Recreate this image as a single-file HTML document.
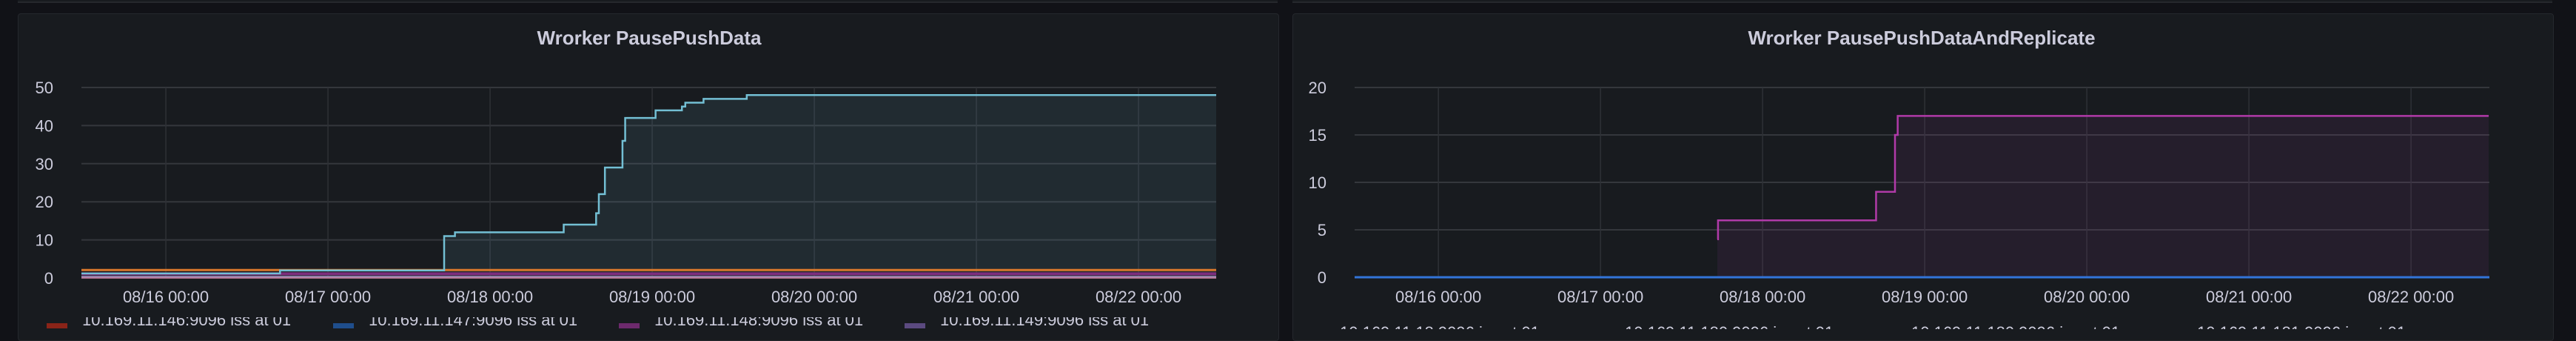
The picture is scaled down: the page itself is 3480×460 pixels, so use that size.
<!DOCTYPE html>
<html><head><meta charset="utf-8">
<style>
html,body{margin:0;padding:0;background:#111217;width:3480px;height:444px;overflow:hidden;font-family:"Liberation Sans",sans-serif;}
.panel{position:absolute;top:18px;height:440px;background:#181b1f;border:1px solid #25282d;border-radius:4px;}
.topstrip{position:absolute;top:-10px;height:12px;background:#181b1f;border-bottom:2px solid #25282d;}
.leg{position:absolute;overflow:hidden;color:#ccccdc;font-size:22px;}
</style></head><body>
<div class="topstrip" style="left:24px;width:1702px"></div>
<div class="topstrip" style="left:1746px;width:1702px"></div>
<div class="panel" style="left:24px;width:1702px"></div>
<div class="panel" style="left:1746px;width:1702px"></div>
<svg id="chart" width="3480" height="444" style="position:absolute;left:0;top:0"></svg>
<div class="leg" style="left:40px;top:428px;width:1680px;height:16px">
 <div style="position:absolute;top:-9px;left:0;white-space:nowrap">
  <span style="position:absolute;left:23px;top:17px;width:28px;height:7px;background:#8a2418"></span><span style="position:absolute;left:71px">10.169.11.146:9096 iss at 01</span>
  <span style="position:absolute;left:410px;top:17px;width:28px;height:7px;background:#1f4e8c"></span><span style="position:absolute;left:458px">10.169.11.147:9096 iss at 01</span>
  <span style="position:absolute;left:796px;top:17px;width:28px;height:7px;background:#6d2a6d"></span><span style="position:absolute;left:844px">10.169.11.148:9096 iss at 01</span>
  <span style="position:absolute;left:1182px;top:17px;width:28px;height:7px;background:#5b4a80"></span><span style="position:absolute;left:1230px">10.169.11.149:9096 iss at 01</span>
 </div>
</div>
<div class="leg" style="left:1810px;top:436px;width:1630px;height:8px">
 <div style="position:absolute;top:0;left:0;white-space:nowrap">
  <span style="position:absolute;left:0">10.169.11.18:9096 iss at 01</span>
  <span style="position:absolute;left:385px">10.169.11.180:9096 iss at 01</span>
  <span style="position:absolute;left:772px">10.169.11.180:9096 iss at 01</span>
  <span style="position:absolute;left:1158px">10.169.11.181:9096 iss at 01</span>
 </div>
</div>
<script>
// hours relative to 08/16 00:00
const dayLabels = ["08/16 00:00","08/17 00:00","08/18 00:00","08/19 00:00","08/20 00:00","08/21 00:00","08/22 00:00"];
const leftTicks = [0,10,20,30,40,50];
const rightTicks = [0,5,10,15,20];
const leftBlueT = [-12.5,16.9,41.0,41.2,42.8,58.9,63.7,64.1,65.0,67.6,68.0,72.5,76.4,76.9,79.6,86.0,155.5];
const leftBlueV = [1.2,2,2,11,12,14,17,22,29,36,42,44,45,46,47,48,48];
const leftOrangeV = 2.1;
const leftPurpleV = 1.1;
const leftLavenderV = 0.25;
const rightPinkT = [41.3,41.4,64.8,67.6,68.0,155.5];
const rightPinkV = [4,6,9,15,17,17];
const rightBlueV = 0;

const svg = document.getElementById('chart');
const NS = 'http://www.w3.org/2000/svg';
function mk(tag, attrs){const e=document.createElementNS(NS,tag);for(const k in attrs)e.setAttribute(k,attrs[k]);svg.appendChild(e);return e;}

function drawPanel(p){
  const x=h=>p.x0+(h-p.h0)*(p.x1-p.x0)/(p.h1-p.h0);
  const y=v=>p.yb-(v/p.vmax)*(p.yb-p.yt);
  const t=mk('text',{x:p.tx,y:60,fill:'#ccccdc','font-size':26,'font-weight':'bold','text-anchor':'middle','font-family':'Liberation Sans, sans-serif'});
  t.textContent=p.title;
  
  
  p.ticks.forEach(v=>{
    const g=mk('line',{x1:p.x0,x2:p.x1,y1:y(v),y2:y(v),stroke:'#34373c','stroke-width':2});
    
    
    const l=mk('text',{x:p.x0-38,y:y(v)+8,fill:'#ccccdc','font-size':22,'text-anchor':'end','font-family':'Liberation Sans, sans-serif'});
    l.textContent=v;
    
    
  });
  dayLabels.forEach((d,i)=>{
    const xx=x(i*24);
    const g=mk('line',{x1:xx,x2:xx,y1:p.yt,y2:p.yb,stroke:'#2e3136','stroke-width':1.5});
    
    
    const l=mk('text',{x:xx,y:408,fill:'#ccccdc','font-size':22,'text-anchor':'middle','font-family':'Liberation Sans, sans-serif'});
    l.textContent=d;
    
    
  });
  return {x,y};
}
function stepPath(ax,T,V){
  let d='M'+ax.x(T[0])+','+ax.y(V[0]);
  for(let i=1;i<T.length;i++){d+=' L'+ax.x(T[i])+','+ax.y(V[i-1])+' L'+ax.x(T[i])+','+ax.y(V[i]);}
  return d;
}
function flat(ax,h0,h1,v,color,w,name){
  const l=mk('line',{x1:ax.x(h0),x2:ax.x(h1),y1:ax.y(v),y2:ax.y(v),stroke:color,'stroke-width':w});
  
  
}

const L={id:'left',title:'Wrorker PausePushData',tx:877,x0:110,x1:1643,h0:-12.5,h1:155.5,yt:118,yb:375,vmax:50,ticks:leftTicks};
const la=drawPanel(L);
let d=stepPath(la,leftBlueT,leftBlueV);
const fillL=mk('path',{d:d+' L'+la.x(155.5)+','+la.y(0)+' L'+la.x(-12.5)+','+la.y(0)+' Z',fill:'rgba(115,191,212,0.1)'});


flat(la,-12.5,155.5,leftLavenderV,'#a08cb8',3,'left-series-149');
flat(la,-12.5,155.5,0,'#c77a9a',1.5,'left-series-zero');
flat(la,-12.5,155.5,leftPurpleV,'#7d2e7d',4,'left-series-148');
flat(la,-12.5,155.5,leftOrangeV,'#d9782d',3,'left-series-146');
const lineL=mk('path',{d:d,fill:'none',stroke:'#73bfd4','stroke-width':2.5});



const R={id:'right',title:'Wrorker PausePushDataAndReplicate',tx:2596,x0:1830,x1:3363,h0:-12.4,h1:155.6,yt:118,yb:374,vmax:20,ticks:rightTicks};
const ra=drawPanel(R);
let d2=stepPath(ra,rightPinkT,rightPinkV);
const fillR=mk('path',{d:d2+' L'+ra.x(155.5)+','+ra.y(0)+' L'+ra.x(41.3)+','+ra.y(0)+' Z',fill:'rgba(180,70,180,0.09)'});


const lineR=mk('path',{d:d2,fill:'none',stroke:'#b03aa8','stroke-width':2.5});


flat(ra,-12.4,155.6,rightBlueV,'#3274d9',3,'right-series-blue');
</script>
</body></html>
